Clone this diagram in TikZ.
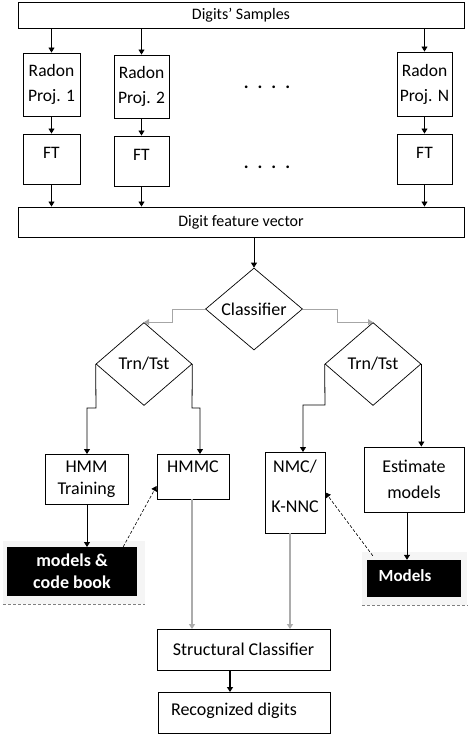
\documentclass[tikz,border=0pt]{standalone}
\usepackage{fontspec}
\setmainfont{Carlito}
\usetikzlibrary{shapes.geometric,arrows.meta,calc}
\begin{document}
\begin{tikzpicture}[x=1pt,y=-1pt,
  box/.style={draw,line width=0.9pt,inner sep=0pt,align=center,fill=white},
  small/.style={font=\fontsize{16}{19}\selectfont},
  mid/.style={font=\fontsize{17.5}{25}\selectfont},
  big/.style={font=\fontsize{18}{22}\selectfont},
  dia/.style={draw,diamond,aspect=1.2,inner sep=0pt,line width=0.7pt,font=\fontsize{18}{22}\selectfont},
  blk/.style={fill=black,text=white,inner sep=0pt,align=center,font=\fontsize{18}{22}\selectfont\bfseries},
  frm/.style={fill=gray!8,inner sep=0pt},
  arr/.style={-{Triangle[length=5pt,width=6pt]},line width=0.8pt},
  garr/.style={-{Triangle[length=5pt,width=6pt]},line width=1.2pt,draw=gray!65},
  darr/.style={-{Triangle[length=5pt,width=6pt]},line width=0.6pt,densely dashed}]
\useasboundingbox (0,0) rectangle (474,734);
% top part
\node[box,small,minimum width=446,minimum height=26] (samples) at (241,15) {Digits' Samples};
\node[box,mid,minimum width=57,minimum height=63] (r1) at (51.5,84.5) {Radon\\Proj. 1};
\node[box,mid,minimum width=55,minimum height=63] (r2) at (141.5,86.5) {Radon\\Proj. 2};
\node[box,mid,minimum width=55,minimum height=64] (rn) at (424.5,84) {Radon\\Proj. N};
\node[box,minimum width=57,minimum height=50] (f1) at (51.5,159) {};
\node[box,minimum width=55,minimum height=50] (f2) at (141.5,161) {};
\node[box,minimum width=55,minimum height=50] (fn) at (424.5,159) {};
\node[mid] (f1t) at (51.5,153) {FT};
\node[mid] (f2t) at (141.5,155) {FT};
\node[mid] (fnt) at (424.5,153) {FT};
\node[big] (dots1) at (267,87) {\textbf{.\hspace{9pt}.\hspace{9pt}.\hspace{9pt}.}};
\node[big] (dots2) at (267,167) {\textbf{.\hspace{9pt}.\hspace{9pt}.\hspace{9pt}.}};
\node[box,small,minimum width=446,minimum height=30] (vec) at (241,222) {Digit feature vector};
\foreach \a/\b in {r1/f1,r2/f2,rn/fn}{
  \draw[arr] (samples.south -| \a) -- (\a.north);
  \draw[arr] (\a.south) -- (\b.north);
  \draw[arr] (\b.south) -- (vec.north -| \b);
}
% diamonds
\node[dia,minimum width=97,minimum height=82] (cls) at (254,309) {Classifier};
\node[dia,minimum width=96,minimum height=83] (tl) at (144,364) {Trn/Tst};
\node[dia,minimum width=96,minimum height=83] (tr) at (373,364) {Trn/Tst};
\draw[arr] (vec.south -| cls) -- (cls.north);
\draw[arr,draw=gray!70] (cls.west) -- ++(-33,0) |- (tl.north);
\draw[arr,draw=gray!70] (cls.east) -- ++(35,0) |- (tr.north);
% second row boxes
\node[box,big,minimum width=83,minimum height=50] (hmm) at (86.5,479) {HMM\\Training};
\node[box,minimum width=72,minimum height=45] (hmmc) at (193,476.5) {};
\node[big] (hmmct) at (193,467) {HMMC};
\node[box,minimum width=60,minimum height=81] (nmc) at (295,492.5) {};
\node[big,align=center] (nmct) at (295,486) {NMC/\\[18pt]K-NNC};
\node[box,big,minimum width=100,minimum height=65] (est) at (414,479.5) {Estimate\\[4pt]models};
\draw[arr] (tl.west) -- (96,408) -- (87,408) -- (87,454);
\draw[arr] (tl.east) -- (192,408) -- (200,408) -- (200,454);
\draw[arr] (tr.west) -- (325,405) -- (303,405) -- (303,452);
\draw[arr] (tr.east) -- (tr.east |- est.north);
% black boxes
\node[frm,minimum width=142,minimum height=63] (cbf) at (74,572.5) {};
\draw[gray,densely dashed,line width=0.8pt] (cbf.south west) -- (cbf.south east);
\node[blk,minimum width=130,minimum height=49] (cb) at (72,571.5) {models \&\\code book};
\node[frm,minimum width=105,minimum height=53] (mf) at (414.5,578.5) {};
\draw[gray,densely dashed,line width=0.8pt] (mf.south west) -- (mf.south east);
\node[fill=black,minimum width=94,minimum height=37,inner sep=0pt] (mod) at (414,578.5) {};
\node[blk,fill=none,font=\fontsize{17}{20}\selectfont\bfseries] (modt) at (405,576) {Models};
\draw[arr] (87,504) -- (87,547);
\draw[darr] ($(cb.north east)+(-14,0)$) -- ($(hmmc.west)+(0,9.5)$);
\draw[arr] ($(est.south)+(-7,0)$) -- ($(mod.north)+(-7,0)$);
\draw[darr] ($(mod.north west)+(6,-4)$) -- (nmc.east);
% bottom
\node[box,big,minimum width=173,minimum height=41] (st) at (243.5,649.5) {Structural Classifier};
\node[box,minimum width=172,minimum height=41] (rec) at (244,712.5) {};
\node[big] (rect) at (234,711) {Recognized digits};
\draw[garr] (192,499) -- (192,629);
\draw[garr] (290,533) -- (290,629);
\draw[arr,line width=1.2pt] (230,670) -- (230,692);
\end{tikzpicture}
\end{document}
